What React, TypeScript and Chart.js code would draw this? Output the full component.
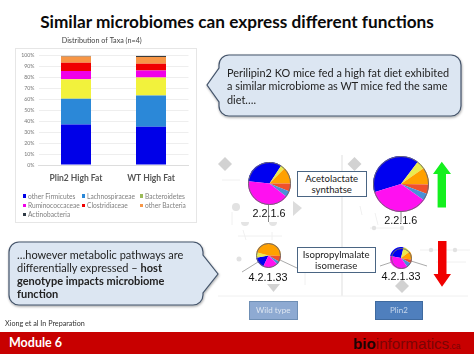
import React, { useEffect, useRef } from "react";
import { Chart, registerables } from "chart.js";

Chart.register(...registerables);

const groups = ["Plin2 High Fat", "WT High Fat"];
const taxa = ["other Firmicutes", "Lachnospiraceae", "Bacteroidetes", "Ruminococcaceae", "Clostridiaceae", "other Bacteria", "Actinobacteria"];
const otherFirmicutes = [37, 35];
const lachnospiraceae = [23.5, 28.5];
const bacteroidetes = [18, 16.5];
const ruminococcaceae = [7.5, 6.5];
const clostridiaceae = [7.5, 6];
const otherBacteria = [5.8, 6.3];
const actinobacteria = [0.7, 1.2];
const barColors = ["#0000e8", "#2b88d8", "#f2f23c", "#f000e8", "#f00000", "#f79646", "#3a3a3a"];
const legendColors = ["#0000e8", "#2b88d8", "#9bbb59", "#f000e8", "#f00000", "#f79646", "#2f3a45"];

const pieSliceNames = ["Firmicutes", "Bacteroidetes", "other Bacteria", "Clostridiaceae", "Lachnospiraceae", "Ruminococcaceae"];
const pieColors = ["#0000f0", "#eaea50", "#ffa000", "#f0502c", "#4a90d8", "#ff10f0"];
const pieWtAcetolactate = [32.5, 3.3, 12.5, 6, 4.5, 41];
const piePlinAcetolactate = [40, 5, 10, 5.5, 4, 35.5];
const pieWtIsopropyl = [15.3, 7, 46.4, 7.8, 4.2, 19.4];
const piePlinIsopropyl = [26, 11, 12.5, 5.5, 7, 37.5];

const BODY = "Lato, 'Noto Sans', sans-serif";
const ARIAL = "'Liberation Sans', Arial, sans-serif";

function BarChart() {
  const ref = useRef<HTMLCanvasElement>(null);
  useEffect(() => {
    const series = [otherFirmicutes, lachnospiraceae, bacteroidetes, ruminococcaceae, clostridiaceae, otherBacteria, actinobacteria];
    const chart = new Chart(ref.current!, {
      type: "bar",
      data: {
        labels: groups,
        datasets: series.map((data, i) => ({
          label: taxa[i],
          data,
          backgroundColor: barColors[i],
          borderWidth: 0,
          categoryPercentage: 0.4,
          barPercentage: 1,
        })),
      },
      options: {
        animation: false,
        responsive: false,
        layout: { padding: { top: 36, left: 15, right: 21.5, bottom: 0 } },
        plugins: {
          legend: { display: false },
          tooltip: { enabled: false },
          title: {
            display: true,
            text: "Distribution of Taxa (n=4)",
            color: "#444",
            font: { family: BODY, size: 7.2, weight: "normal" },
            padding: { top: 0, bottom: 11 },
          },
        },
        scales: {
          x: {
            stacked: true,
            grid: { display: false },
            border: { color: "#ddd" },
            ticks: { color: "#555", font: { family: BODY, size: 8.5, weight: "bold" }, padding: 0, maxRotation: 0 },
            afterFit: (s: any) => { s.height = 65; },
          },
          y: {
            stacked: true,
            min: 0,
            max: 100,
            grid: { color: "#eeeeee", lineWidth: 1, drawTicks: false },
            border: { display: false },
            ticks: { stepSize: 10, color: "#777", padding: 4, font: { family: BODY, size: 5.2 }, callback: (v: any) => v + "%" },
            afterFit: (s: any) => { s.width = 23.5; },
          },
        },
      },
    });
    return () => chart.destroy();
  }, []);
  return <canvas ref={ref} width={210} height={230} style={{ position: "absolute", left: 0, top: 0 }} />;
}

function Pie({ values, cx, cy, r, rotation, name }: { values: number[]; cx: number; cy: number; r: number; rotation: number; name: string }) {
  const ref = useRef<HTMLCanvasElement>(null);
  const size = Math.ceil(r * 2);
  useEffect(() => {
    const chart = new Chart(ref.current!, {
      type: "pie",
      data: {
        labels: pieSliceNames,
        datasets: [{ label: name, data: values, backgroundColor: pieColors, borderWidth: 0, hoverOffset: 0, offset: 0 }],
      },
      options: {
        animation: false,
        responsive: false,
        rotation,
        layout: { padding: 0 },
        plugins: { legend: { display: false }, tooltip: { enabled: false } },
      },
    });
    return () => chart.destroy();
  }, []);
  return (
    <>
      <canvas ref={ref} width={size} height={size} style={{ position: "absolute", left: cx - size / 2, top: cy - size / 2 }} />
      <div style={{ position: "absolute", left: cx - r, top: cy - r, width: r * 2, height: r * 2, boxSizing: "border-box", borderRadius: "50%", border: `${r > 15 ? 1.6 : 1.1}px solid #6e6a70` }} />
    </>
  );
}

function Txt({ x, y, children, style }: { x: number; y: number; children: React.ReactNode; style?: React.CSSProperties }) {
  return <div style={{ position: "absolute", left: x, top: y, whiteSpace: "nowrap", ...style }}>{children}</div>;
}

function Center({ cx, cy, children, style }: { cx: number; cy: number; children: React.ReactNode; style?: React.CSSProperties }) {
  return <div style={{ position: "absolute", left: cx, top: cy, transform: "translate(-50%,-50%)", whiteSpace: "nowrap", textAlign: "center", ...style }}>{children}</div>;
}

const legendRows = [
  { x: 25, y: 196, i: 0 }, { x: 84, y: 196, i: 1 }, { x: 142, y: 196, i: 2 },
  { x: 25, y: 205.5, i: 3 }, { x: 84, y: 205.5, i: 4 }, { x: 142, y: 205.5, i: 5 },
  { x: 25, y: 214.5, i: 6 },
];

function Background() {
  const diamond = (x: number, y: number, r: number) => `${x},${y - r} ${x + r},${y} ${x},${y + r} ${x - r},${y}`;
  const thin = [
    [222, 180, 240, 180], [232, 212, 232, 225], [243, 230, 246, 240], [272, 232, 272, 240], [238, 236, 282, 236],
    [332, 170, 332, 180], [298, 262, 312, 262], [305, 258, 305, 285], [370, 228, 400, 228], [375, 213, 378, 225],
    [420, 250, 470, 250], [436, 262, 466, 262], [445, 270, 445, 284], [360, 206, 362, 215], [300, 192, 312, 192],
  ];
  return (
    <svg width={474} height={355} style={{ position: "absolute", left: 0, top: 0 }}>
      <line x1={342} y1={155} x2={342} y2={296} stroke="#e6e6e6" strokeWidth={1.3} />
      <line x1={218} y1={296} x2={468} y2={296} stroke="#f0f0f0" strokeWidth={1} />
      {thin.map((l, i) => <line key={i} x1={l[0]} y1={l[1]} x2={l[2]} y2={l[3]} stroke="#f0f0f0" strokeWidth={1} />)}
      <polygon points={diamond(225, 164, 7)} fill="#d2d2d2" />
      <polygon points={diamond(354.5, 164, 7)} fill="#d2d2d2" />
      <polygon points={diamond(402, 286, 7)} fill="#d2d2d2" />
      <polygon points="293,201 302,208 293,216" fill="#dcdcdc" />
      <polygon points="267,284 280,284 273.5,292" fill="#d2d2d2" />
      <circle cx={236} cy={207} r={4} fill="#e2e2e2" />
      <circle cx={239} cy={259} r={2.5} fill="#e2e2e2" />
      <path d="M241 222 h8 a4 4 0 0 1 -8 0z" fill="#e4e4e4" />
      <path d="M269 222 h8 a4 4 0 0 1 -8 0z" fill="#e4e4e4" />
      <circle cx={374} cy={228} r={2.2} fill="#e2e2e2" />
      <circle cx={402} cy={228} r={2.2} fill="#e2e2e2" />
      <circle cx={431} cy={250} r={2.2} fill="#e2e2e2" />
      <circle cx={455} cy={250} r={2.2} fill="#e2e2e2" />
      <line x1={268.5} y1={205} x2={268.5} y2={222} stroke="#8a8a8a" strokeWidth={1} />
      <line x1={401} y1={212} x2={401} y2={222} stroke="#8a8a8a" strokeWidth={1} />
      <line x1={242} y1={272} x2={258} y2={262} stroke="#a0a0a0" strokeWidth={0.9} />
      <line x1={280} y1={260} x2={297} y2={268} stroke="#a0a0a0" strokeWidth={0.9} />
      <line x1={380} y1={266} x2={392} y2={262} stroke="#a0a0a0" strokeWidth={0.9} />
      <line x1={411} y1={261} x2={427} y2={266} stroke="#a0a0a0" strokeWidth={0.9} />
    </svg>
  );
}

function Shapes() {
  const c1 = "M229 55 H451 a10 10 0 0 1 10 10 V106 a10 10 0 0 1 -10 10 H229 a10 10 0 0 1 -10 -10 V102 L207 85 L219 68 V65 a10 10 0 0 1 10 -10 Z";
  const c2 = "M19 242 H193 a10 10 0 0 1 10 10 V255 L218 274 L203 293 V295 a10 10 0 0 1 -10 10 H19 a10 10 0 0 1 -10 -10 V252 a10 10 0 0 1 10 -10 Z";
  return (
    <svg width={474} height={355} style={{ position: "absolute", left: 0, top: 0 }}>
      <defs>
        <filter id="sh" x="-5%" y="-10%" width="110%" height="125%">
          <feDropShadow dx="0.5" dy="1.2" stdDeviation="0.9" floodColor="#000" floodOpacity="0.35" />
        </filter>
      </defs>
      <path d={c1} fill="#dce6f2" stroke="#44546a" strokeWidth={1.2} filter="url(#sh)" />
      <path d={c2} fill="#dce6f2" stroke="#44546a" strokeWidth={1.2} filter="url(#sh)" />
      <polygon points="441.8,161.7 451,174 446,174 446,207.5 437.6,207.5 437.6,174 433,174" fill="#14f01e" />
      <polygon points="442,286.7 451,274 446.5,274 446.5,241 438,241 438,274 433.5,274" fill="#f00000" />
    </svg>
  );
}

const labelBox: React.CSSProperties = {
  position: "absolute", boxSizing: "border-box", background: "#fff", border: "1.3px solid #4a6583",
  display: "flex", alignItems: "center", justifyContent: "center", textAlign: "center",
  fontFamily: BODY, fontSize: 9.6, lineHeight: "11px", color: "#222",
};
const pillBox: React.CSSProperties = {
  position: "absolute", boxSizing: "border-box", top: 300.5, height: 19.5,
  display: "flex", alignItems: "center", justifyContent: "center", fontFamily: BODY, fontSize: 8,
};
const ecLabel: React.CSSProperties = { fontFamily: ARIAL, fontSize: 10.8, color: "#111" };

export default function App() {
  return (
    <div style={{ position: "absolute", left: 0, top: 0, width: 474, height: 355, background: "#fff", overflow: "hidden", filter: "blur(0.3px)" }}>
      <Center cx={237} cy={21} style={{ fontFamily: BODY, fontWeight: 700, fontSize: 17.2, color: "#0a0a0a" }}>
        Similar microbiomes can express different functions
      </Center>

      <div style={{ position: "absolute", left: 15, top: 48, width: 182, height: 175, boxSizing: "border-box", border: "1px solid #e6e6e6" }} />
      <BarChart />
      {legendRows.map((r) => (
        <React.Fragment key={r.i}>
          <div style={{ position: "absolute", left: r.x - 2, top: r.y - 1.6, width: 3.2, height: 3.2, background: legendColors[r.i] }} />
          <Txt x={r.x + 3} y={r.y - 4.5} style={{ fontFamily: BODY, fontSize: 6.6, lineHeight: "9px", color: "#808080" }}>{taxa[r.i]}</Txt>
        </React.Fragment>
      ))}

      <Background />
      <Shapes />

      <Txt x={227} y={65.5} style={{ fontFamily: BODY, fontSize: 10.9, lineHeight: "13.8px", color: "#222" }}>
        Perilipin2 KO mice fed a high fat diet exhibited<br />a similar microbiome as WT mice fed the same<br />diet….
      </Txt>
      <Txt x={17} y={247.5} style={{ fontFamily: BODY, fontSize: 11, lineHeight: "13.3px", color: "#222" }}>
        …however metabolic pathways are<br />differentially expressed – <b>host</b><br /><b>genotype impacts microbiome</b><br /><b>function</b>
      </Txt>

      <Pie name="Wild type 2.2.1.6" values={pieWtAcetolactate} cx={269} cy={183} r={21.5} rotation={276} />
      <Pie name="Plin2 2.2.1.6" values={piePlinAcetolactate} cx={401} cy={184.3} r={28} rotation={253} />
      <Pie name="Wild type 4.2.1.33" values={pieWtIsopropyl} cx={268.3} cy={255.7} r={12.5} rotation={205} />
      <Pie name="Plin2 4.2.1.33" values={piePlinIsopropyl} cx={401.3} cy={258.3} r={10.7} rotation={280} />

      <Center cx={269} cy={212.7} style={ecLabel}>2.2.1.6</Center>
      <Center cx={400.7} cy={220} style={ecLabel}>2.2.1.6</Center>
      <Center cx={268} cy={277} style={ecLabel}>4.2.1.33</Center>
      <Center cx={401} cy={275.5} style={ecLabel}>4.2.1.33</Center>

      <div style={{ ...labelBox, left: 296.7, top: 170.7, width: 70, height: 26.6 }}>Acetolactate<br />synthatse</div>
      <div style={{ ...labelBox, left: 296.7, top: 246.7, width: 79, height: 26 }}>Isopropylmalate<br />isomerase</div>

      <div style={{ ...pillBox, left: 249, width: 48.5, background: "#8eaad2", border: "1px solid #6f8fb5", color: "#dfe7f2" }}>Wild type</div>
      <div style={{ ...pillBox, left: 374.7, width: 48.5, background: "#4f7fbd", border: "1px solid #3f6a9f", color: "#c9d8ec" }}>Plin2</div>

      <Txt x={5} y={318.5} style={{ fontFamily: BODY, fontSize: 7.2, lineHeight: "9px", color: "#333" }}>Xiong et al In Preparation</Txt>

      <div style={{ position: "absolute", left: 0, top: 331.5, width: 474, height: 22.5, background: "#c80000" }} />
      <Txt x={9} y={335} style={{ fontFamily: BODY, fontWeight: 700, fontSize: 12.5, lineHeight: "16px", color: "#fff" }}>Module 6</Txt>
      <Txt x={353} y={333.5} style={{ fontFamily: ARIAL, fontSize: 15.2, lineHeight: "19px", color: "#7a0505" }}>
        <b style={{ color: "#1a0505" }}>bio</b>informatics<span style={{ fontSize: 8.5 }}>.ca</span>
      </Txt>
    </div>
  );
}
